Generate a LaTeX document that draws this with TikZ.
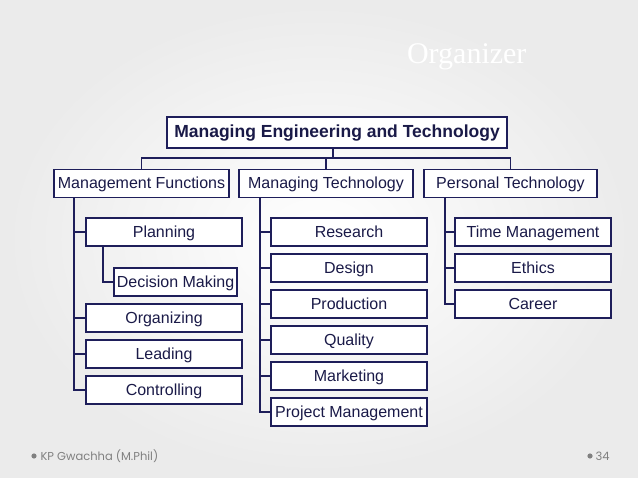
\documentclass[tikz,border=0pt]{standalone}
\usepackage{fontspec}
\setmainfont{Liberation Sans}
\newfontfamily\footfont{Poppins}
\newfontfamily\titlefont{Liberation Serif}
\usepackage{tikz}
\definecolor{navy}{HTML}{1E1E5A}
\definecolor{inknavy}{HTML}{1A1A48}
\tikzset{box/.style={draw=navy, line width=1.6pt, fill=white, text=inknavy,
   minimum height=28pt, inner sep=1pt, text height=13pt, text depth=2pt,
   font=\fontsize{16}{18}\selectfont},
 topbox/.style={box, minimum height=31pt, font=\fontsize{17.5}{20}\selectfont\bfseries},
 kid/.style={box, minimum width=156pt},
 link/.style={draw=navy, line width=1.6pt},
 footer/.style={text=gray, font=\footfont\fontsize{11.5}{13}\selectfont},
 }

\begin{document}
\begin{tikzpicture}[x=1pt, y=-1pt]
        \shade[inner color=white, outer color=gray!16] (0,0) rectangle (638,478);
        \useasboundingbox (0,0) rectangle (638,478);
        \node[anchor=base east, text=white, font=\titlefont\fontsize{30}{34}\selectfont] (title) at (530,64) {Organizer};
        \node[topbox, minimum width=340pt] (met) at (337,132.5) {Managing Engineering and Technology};
        \node[box, minimum width=175pt] (mf) at (141.5,183.5) {Management Functions};
        \node[box, minimum width=174pt] (mt) at (326,183.5) {Managing Technology};
        \node[box, minimum width=173pt] (pt) at (510.5,183.5) {Personal Technology};
        \coordinate (bus) at (333,158);
        \draw[link] (met.south -| bus) -- (bus);
        \draw[link] (mf.north) |- (bus) -| (pt.north);
        \draw[link] (mt.north) -- (mt.north |- bus);
        \node[kid] (plan) at (164,232) {Planning};
        \node[box, minimum width=123pt] (dec) at (175.5,282) {Decision Making};
        \node[kid] (org) at (164,318) {Organizing};
        \node[kid] (lead) at (164,354) {Leading};
        \node[kid] (ctrl) at (164,390) {Controlling};
        \coordinate (mfspine) at ([xshift=21pt]mf.south west);
        \draw[link] (mfspine) |- (ctrl.west);
        \foreach \n in {plan,org,lead}
            \draw[link] (\n.west) -- (\n.west -| mfspine);
        \draw[link] ([xshift=18pt]plan.south west) |- (dec.west);
        \node[kid] (res) at (349,232) {Research};
        \node[kid] (des) at (349,268) {Design};
        \node[kid] (prod) at (349,304) {Production};
        \node[kid] (qual) at (349,340) {Quality};
        \node[kid] (mark) at (349,376) {Marketing};
        \node[kid] (proj) at (349,412) {Project Management};
        \coordinate (mtspine) at ([xshift=22pt]mt.south west);
        \draw[link] (mtspine) |- (proj.west);
        \foreach \n in {res,des,prod,qual,mark}
            \draw[link] (\n.west) -- (\n.west -| mtspine);
        \node[kid] (time) at (533,232) {Time Management};
        \node[kid] (eth) at (533,268) {Ethics};
        \node[kid] (car) at (533,304) {Career};
        \coordinate (ptspine) at ([xshift=22pt]pt.south west);
        \draw[link] (ptspine) |- (car.west);
        \foreach \n in {time,eth}
            \draw[link] (\n.west) -- (\n.west -| ptspine);
        \fill[gray] (34,456) circle (2.6pt);
        \node[footer, anchor=west] (auth) at (37,456) {KP Gwachha (M.Phil)};
        \fill[gray] (590,456) circle (2.6pt);
        \node[footer, anchor=west] (page) at (592,456) {34};
    \end{tikzpicture}
\end{document}
